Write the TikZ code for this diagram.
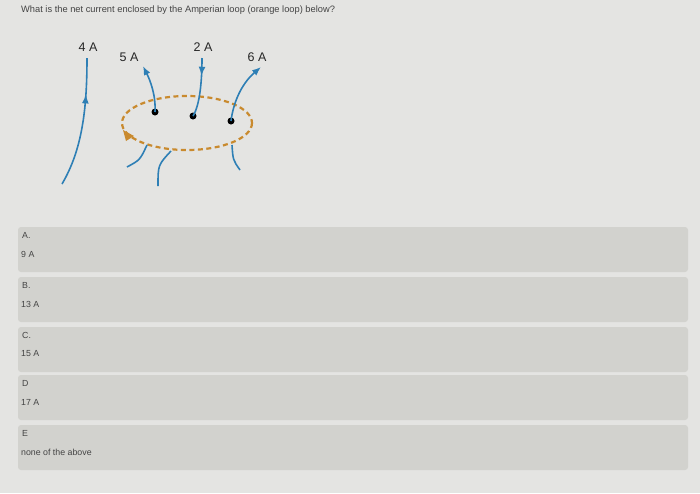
\documentclass[tikz,border=0pt]{standalone}
\usepackage{fontspec}
\setmainfont{Liberation Sans}
\usetikzlibrary{decorations.markings,arrows.meta}
\definecolor{bg}{HTML}{E4E4E2}
\definecolor{boxc}{HTML}{D2D2CE}
\definecolor{wire}{HTML}{2E7FB5}
\definecolor{loopc}{HTML}{C98A2E}
\definecolor{txt}{HTML}{444444}
\tikzset{
  ans/.style={fill=boxc,rounded corners=3pt,draw=none},
  lab/.style={anchor=west,text=txt,font=\fontsize{8.8}{10}\selectfont,inner sep=0},
  cur/.style={text=black!85,font=\fontsize{12.5}{13}\selectfont,inner sep=0},
  wireln/.style={draw=wire,line width=1.6pt},
  midarrow/.style={postaction={decorate},decoration={markings,mark=at position #1 with {\arrow{Latex[length=9pt,width=7pt]}}}},
  dot/.style={circle,fill=black,inner sep=0,minimum size=7pt}
}
\begin{document}
\begin{tikzpicture}[x=1pt,y=-1pt]
\fill[bg] (0,0) rectangle (700,493);
\useasboundingbox (0,0) rectangle (700,493);
\node[lab,font=\fontsize{9.3}{10}\selectfont] (q) at (21,10) {What is the net current enclosed by the Amperian loop (orange loop) below?};
% answer boxes
\foreach \n/\y/\l/\t in {a/227/A./9 A, b/277/B./13 A, c/327/C./15 A, d/375/D/17 A, e/425/E/none of the above}{
  \fill[ans] (18,\y) rectangle (688,\y+45);
  \node[lab] (l\n) at (22,\y+8) {\l};
  \node[lab] (t\n) at (21,\y+27) {\t};
}
% loop
\draw[loopc,line width=2.2pt,dash pattern=on 5pt off 3.5pt] (187,123) ellipse (65 and 27);
\fill[loopc] (123,130) -- (134,136) -- (126,141) -- cycle;
% dots
\node[dot] (d5) at (155,112) {};
\node[dot] (d2) at (193,116) {};
\node[dot] (d6) at (231,121) {};
% labels
\node[cur] (L4) at (88,47) {4 A};
\node[cur] (L5) at (129,57) {5 A};
\node[cur] (L2) at (203,47) {2 A};
\node[cur] (L6) at (257,57) {6 A};
\coordinate (t4) at (87,58);
\coordinate (t5) at (143,66);
\coordinate (t2) at (202,58);
\coordinate (t6) at (261,67);
% wires
\draw[wireln,midarrow=0.72] (62,184) .. controls (82,150) and (87,110) .. (t4);
\draw[wireln,-{Latex[length=9pt,width=7pt]}] (d5.center) .. controls (156,95) and (150,80) .. (t5);
\draw[wireln,midarrow=0.3] (t2) .. controls (202,80) and (200,105) .. (d2.center);
\draw[wireln,-{Latex[length=9pt,width=7pt]}] (d6.center) .. controls (233,105) and (240,85) .. (t6);
% lower stubs
\coordinate (s1a) at (127,167); \coordinate (s1b) at (147,145);
\coordinate (s2a) at (158,186); \coordinate (s2b) at (171,151);
\coordinate (s3a) at (240,170); \coordinate (s3b) at (232,145);
\draw[wireln] (s1a) .. controls (140,160) .. (s1b);
\draw[wireln] (s2a) .. controls (158,165) .. (s2b);
\draw[wireln] (s3a) .. controls (233,160) .. (s3b);
\end{tikzpicture}
\end{document}
